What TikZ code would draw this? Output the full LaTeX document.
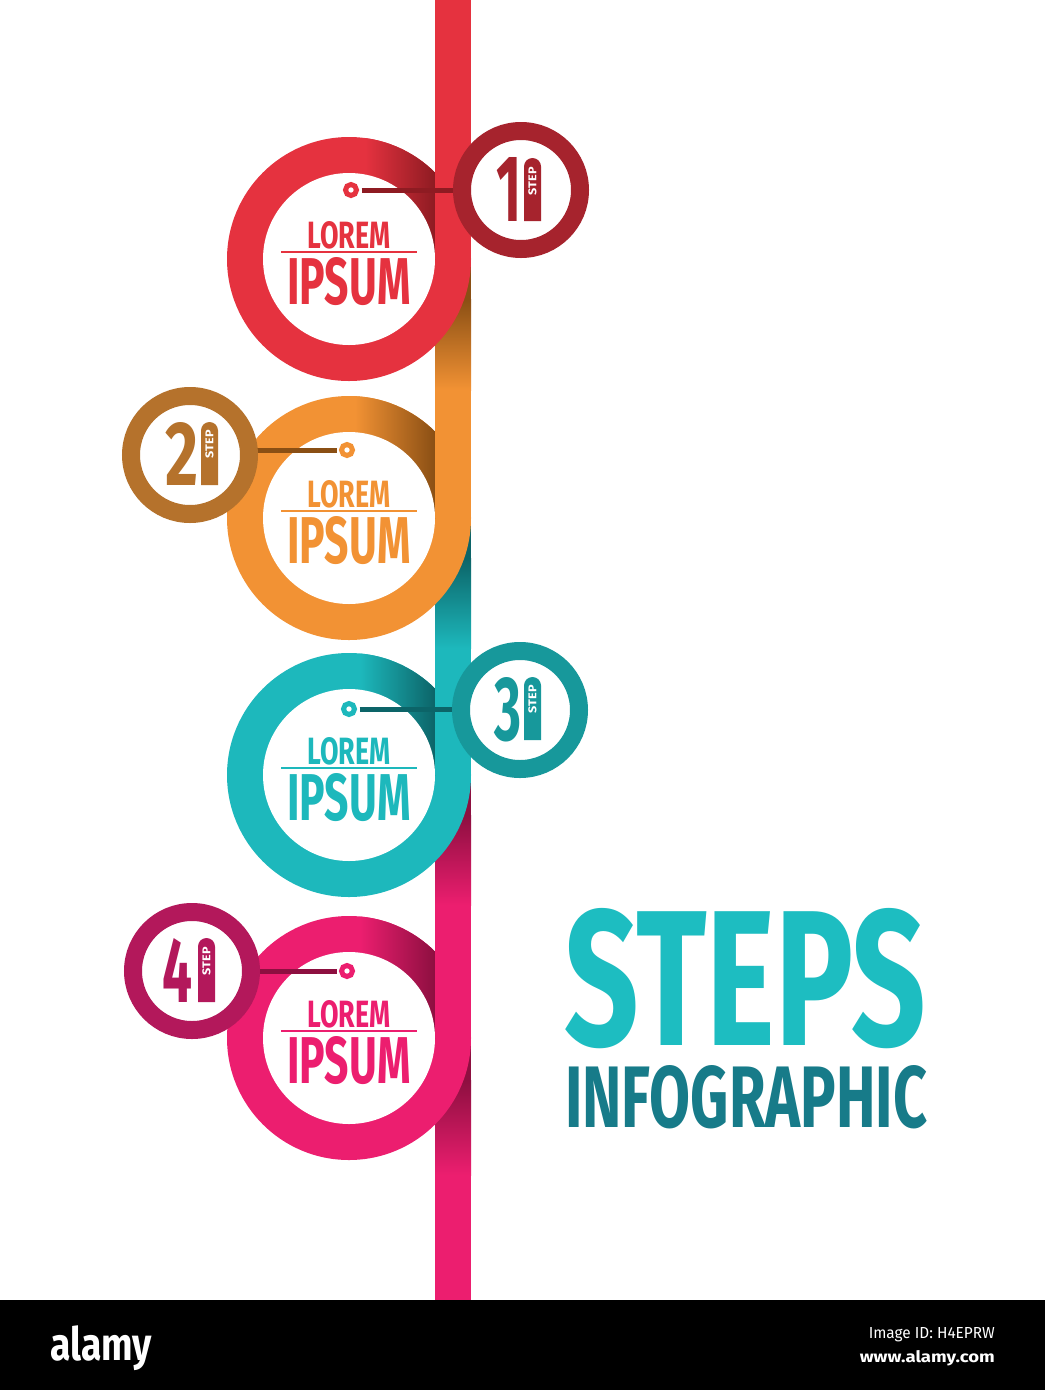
\documentclass[tikz,border=0pt]{standalone}
\usepackage{fontspec}
\setmainfont{Fira Sans}
\usepackage{graphicx}
\usetikzlibrary{calc}

\definecolor{ringred}{HTML}{E5323F}
\definecolor{ringredD}{HTML}{8E1B22}
\definecolor{badgered}{HTML}{A6232D}
\definecolor{ringorange}{HTML}{F29234}
\definecolor{ringorangeD}{HTML}{8A4F14}
\definecolor{badgeorange}{HTML}{B5722C}
\definecolor{ringteal}{HTML}{1DB8BC}
\definecolor{ringtealD}{HTML}{0C6468}
\definecolor{badgeteal}{HTML}{17989B}
\definecolor{ringpink}{HTML}{EC1E6F}
\definecolor{ringpinkD}{HTML}{8D0F40}
\definecolor{badgepink}{HTML}{B3185B}
\definecolor{titleteal}{HTML}{1DBDC1}
\definecolor{titledark}{HTML}{177B89}

\newcommand{\fitto}[3]{\resizebox{#1}{#2}{#3}}

\tikzstyle{txt} = [inner sep=0pt, anchor=base, font=\bfseries]
\tikzstyle{badge} = [circle, line width=18pt, fill=white, minimum size=118pt, inner sep=0pt]
\tikzstyle{dot} = [circle, line width=5pt, fill=white, minimum size=11pt, inner sep=0pt]
\tikzstyle{link} = [line width=5pt, shorten <=2.5pt]
\tikzstyle{stepword} = [rotate=90, text=white, inner sep=0pt, font=\bfseries]
\tikzstyle{rule} = [line width=1.5pt]

\begin{document}
\begin{tikzpicture}[x=1pt,y=-1pt]
\useasboundingbox (0,0) rectangle (1045,1390);
\fill[white] (0,0) rectangle (1045,1390);

% band and rings, bottom first
\fill[ringpinkD] (435,1038) rectangle (471,1080);
\shade[top color=ringpinkD, bottom color=ringpink] (435,1080) rectangle (471,1175);
\fill[ringpink] (435,1175) rectangle (471,1300);

\fill[ringpink] (349,1038) circle[radius=122pt];
\begin{scope}
\clip (349,1038) circle[radius=122pt];
\shade[left color=ringpink, right color=ringpinkD] (360,916) rectangle (435,1038);
\end{scope}
\fill[white] (349,1038) circle[radius=86pt];

\fill[ringpinkD] (435,775) rectangle (471,815);
\shade[top color=ringpinkD, bottom color=ringpink] (435,815) rectangle (471,905);
\fill[ringpink] (435,905) rectangle (471,1038);

\fill[ringteal] (349,775) circle[radius=122pt];
\begin{scope}
\clip (349,775) circle[radius=122pt];
\shade[left color=ringteal, right color=ringtealD] (360,653) rectangle (435,775);
\end{scope}
\fill[white] (349,775) circle[radius=86pt];

\fill[ringtealD] (435,518) rectangle (471,558);
\shade[top color=ringtealD, bottom color=ringteal] (435,558) rectangle (471,648);
\fill[ringteal] (435,648) rectangle (471,775);

\fill[ringorange] (349,518) circle[radius=122pt];
\begin{scope}
\clip (349,518) circle[radius=122pt];
\shade[left color=ringorange, right color=ringorangeD] (355,396) rectangle (435,518);
\end{scope}
\fill[white] (349,518) circle[radius=86pt];

\fill[ringorangeD] (435,259) rectangle (471,299);
\shade[top color=ringorangeD, bottom color=ringorange] (435,299) rectangle (471,390);
\fill[ringorange] (435,390) rectangle (471,518);

\fill[ringred] (349,259) circle[radius=122pt];
\begin{scope}
\clip (349,259) circle[radius=122pt];
\shade[left color=ringred, right color=ringredD] (365,137) rectangle (435,259);
\end{scope}
\fill[white] (349,259) circle[radius=86pt];

\fill[ringred] (435,0) rectangle (471,259);

% texts in the rings
\node (lorem1) [txt, text=ringred] at (349,248) {\fitto{83pt}{27pt}{LOREM}};
\draw[rule, ringred] (281,252) -- (417,252);
\node (ipsum1) [txt, text=ringred] at (349,304) {\fitto{123pt}{47pt}{IPSUM}};

\node (lorem2) [txt, text=ringorange] at (349,507) {\fitto{83pt}{27pt}{LOREM}};
\draw[rule, ringorange] (281,511) -- (417,511);
\node (ipsum2) [txt, text=ringorange] at (349,563) {\fitto{123pt}{47pt}{IPSUM}};

\node (lorem3) [txt, text=ringteal] at (349,764) {\fitto{83pt}{27pt}{LOREM}};
\draw[rule, ringteal] (281,768) -- (417,768);
\node (ipsum3) [txt, text=ringteal] at (349,820) {\fitto{123pt}{47pt}{IPSUM}};

\node (lorem4) [txt, text=ringpink] at (349,1027) {\fitto{83pt}{27pt}{LOREM}};
\draw[rule, ringpink] (281,1031) -- (417,1031);
\node (ipsum4) [txt, text=ringpink] at (349,1083) {\fitto{123pt}{47pt}{IPSUM}};

% step badges
\coordinate (c1) at (521,190);
\coordinate (c2) at (190,455);
\coordinate (c3) at (520,710);
\coordinate (c4) at (192,971);

\node (d1) [dot, draw=ringred] at (351,190) {};
\node (d2) [dot, draw=ringorange] at (347,450) {};
\node (d3) [dot, draw=ringteal] at (349,709) {};
\node (d4) [dot, draw=ringpink] at (347,971) {};

\draw[link, ringredD] (d1) -- (d1 -| c1);
\draw[link, ringorangeD] (d2) -- (d2 -| c2);
\draw[link, ringtealD] (d3) -- (d3 -| c3);
\draw[link, ringpinkD] (d4) -- (d4 -| c4);

\node (b1) [badge, draw=badgered] at (c1) {};
\node (n1) [txt, anchor=base west, text=badgered] at (496,221) {\fitto{25pt}{64pt}{1}};
\fill[badgered] (524,221) [rounded corners=8.5pt] -- (524,158) -- (541,158) [sharp corners] -- (541,221) -- cycle;
\node (s1) [stepword] at (532.5,181) {\fitto{28pt}{8pt}{STEP}};

\node (b2) [badge, draw=badgeorange] at (c2) {};
\node (n2) [txt, anchor=base west, text=badgeorange] at (165,485) {\fitto{33pt}{63pt}{2}};
\fill[badgeorange] (201,485) [rounded corners=8.5pt] -- (201,422) -- (218,422) [sharp corners] -- (218,485) -- cycle;
\node (s2) [stepword] at (209.5,444) {\fitto{28pt}{8pt}{STEP}};

\node (b3) [badge, draw=badgeteal] at (c3) {};
\node (n3) [txt, anchor=base west, text=badgeteal] at (494,740) {\fitto{27pt}{63pt}{3}};
\fill[badgeteal] (524,740) [rounded corners=8.5pt] -- (524,677) -- (541,677) [sharp corners] -- (541,740) -- cycle;
\node (s3) [stepword] at (532.5,699) {\fitto{28pt}{8pt}{STEP}};

\node (b4) [badge, draw=badgepink] at (c4) {};
\node (n4) [txt, anchor=base west, text=badgepink] at (162,1002) {\fitto{30pt}{64pt}{4}};
\fill[badgepink] (198,1002) [rounded corners=8.5pt] -- (198,938) -- (215,938) [sharp corners] -- (215,1002) -- cycle;
\node (s4) [stepword] at (206.5,961) {\fitto{28pt}{8pt}{STEP}};

% title
\node (steps) [txt, anchor=base west, text=titleteal] at (564,1045) {\fitto{362pt}{137pt}{STEPS}};
\node (info) [txt, anchor=base west, text=titledark] at (565,1127) {\fitto{362pt}{62pt}{INFOGRAPHIC}};

% bottom bar
\fill[black] (0,1300) rectangle (1045,1390);
\node (logo) [inner sep=0pt, anchor=north west, text=white, font=\bfseries] at (50,1325) {\resizebox*{102pt}{45pt}{alamy}};
\node (imgid) [inner sep=0pt, anchor=base east, text=white] at (995,1338) {\fitto{126pt}{11pt}{Image ID: H4EPRW}};
\node (site) [inner sep=0pt, anchor=base east, text=white, font=\bfseries] at (995,1362) {\fitto{135pt}{12pt}{www.alamy.com}};
\end{tikzpicture}
\end{document}
